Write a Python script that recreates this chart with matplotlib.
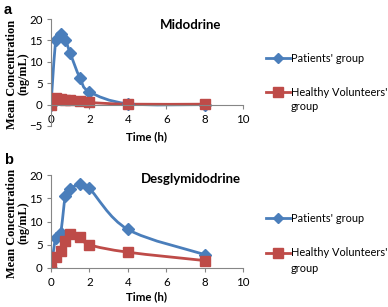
import matplotlib
matplotlib.use("Agg")
import matplotlib.pyplot as plt
import numpy as np
from matplotlib.path import Path
from matplotlib.patches import PathPatch
from matplotlib.lines import Line2D

# ---- data ----
time_h = [0, 0.25, 0.5, 0.75, 1, 1.5, 2, 4, 8]
mido_patients = [0, 15.0, 16.4, 15.0, 12.0, 6.3, 3.0, 0.2, 0.0]
mido_healthy = [0, 1.5, 1.3, 1.1, 1.0, 0.8, 0.5, 0.1, 0.1]
desg_patients = [0, 6.5, 7.5, 15.5, 17.0, 18.0, 17.1, 8.3, 2.9]
desg_healthy = [0, 2.4, 3.7, 5.8, 7.4, 6.7, 5.0, 3.4, 1.6]
titles = ["Midodrine", "Desglymidodrine"]
panel_letters = ["a", "b"]
legend_labels = ["Patients' group", "Healthy Volunteers'\ngroup"]
x_ticks = [0, 2, 4, 6, 8, 10]
y_ticks_top = [-5, 0, 5, 10, 15, 20]
y_ticks_bottom = [0, 5, 10, 15, 20]

BLUE = "#4A7EBB"
RED = "#BE4B48"
GRAY = "#868686"
SANS = ["Lato", "DejaVu Sans"]
SERIF = ["Liberation Serif", "DejaVu Serif"]
FS = 8.3
LFS = 7.9


def smooth_path(x, y):
    x = np.asarray(x, float)
    y = np.asarray(y, float)
    pts = np.column_stack([x, y])
    n = len(pts)
    verts = [pts[0]]
    codes = [Path.MOVETO]
    for i in range(n - 1):
        p0 = pts[i - 1] if i > 0 else pts[i]
        p1 = pts[i]
        p2 = pts[i + 1]
        p3 = pts[i + 2] if i + 2 < n else pts[i + 1]
        c1 = p1 + (p2 - p0) / 6.0
        c2 = p2 - (p3 - p1) / 6.0
        verts += [c1, c2, p2]
        codes += [Path.CURVE4] * 3
    return Path(verts, codes)


def draw_series(ax, x, y, color, marker, ms):
    patch = PathPatch(smooth_path(x, y), fill=False, edgecolor=color,
                      lw=2.0, transform=ax.transData, capstyle="round",
                      joinstyle="round")
    ax.add_patch(patch)
    ax.plot(x, y, linestyle="none", marker=marker, ms=ms, color=color,
            markeredgecolor=color)


fig = plt.figure(figsize=(3.88, 3.07), dpi=100)
W, H = 388.0, 307.0

panels = [
    dict(rect=[51 / W, 1 - 126 / H, 192 / W, 107 / H], ylim=(-5, 20),
         yt=y_ticks_top, p=mido_patients, h=mido_healthy,
         title_y=25, letter_y=10, ylab_y=74, leg_y=[58, 92], time_y=137),
    dict(rect=[51 / W, 1 - 268 / H, 192 / W, 93 / H], ylim=(0, 20),
         yt=y_ticks_bottom, p=desg_patients, h=desg_healthy,
         title_y=179, letter_y=160, ylab_y=223, leg_y=[218, 253], time_y=297),
]

for k, pn in enumerate(panels):
    ax = fig.add_axes(pn["rect"])
    ax.set_xlim(0, 10)
    ax.set_ylim(*pn["ylim"])
    ax.set_xticks(x_ticks)
    ax.set_yticks(pn["yt"])
    for s in ["top", "right"]:
        ax.spines[s].set_visible(False)
    ax.spines["left"].set_color(GRAY)
    ax.spines["bottom"].set_color(GRAY)
    ax.spines["bottom"].set_position(("data", 0))
    ax.tick_params(axis="both", colors=GRAY, length=3, width=0.8,
                   labelsize=FS, labelcolor="black")
    ax.tick_params(axis="x", pad=3.5)
    ax.tick_params(axis="y", pad=3)
    for lab in ax.get_xticklabels() + ax.get_yticklabels():
        lab.set_family(SANS)

    draw_series(ax, time_h, pn["p"], BLUE, "D", 6.0)
    draw_series(ax, time_h, pn["h"], RED, "s", 7.0)

    # title
    fig.text(191 / W, 1 - pn["title_y"] / H, titles[k], ha="center",
             va="center", fontsize=9.5, fontweight="bold", family=SANS)
    # panel letter
    fig.text(4 / W, 1 - pn["letter_y"] / H, panel_letters[k], ha="left",
             va="center", fontsize=10.5, fontweight="bold",
             family=["Liberation Sans", "DejaVu Sans"])
    # y label
    fig.text(18 / W, 1 - pn["ylab_y"] / H, "Mean Concentration\n(ng/mL)",
             rotation=90, ha="center", va="center", fontsize=8.8,
             fontweight="bold", family=SERIF, linespacing=1.0)
    # x label
    fig.text(147 / W, 1 - pn["time_y"] / H, "Time (h)", ha="center",
             va="center", fontsize=FS, fontweight="bold", family=SANS)

    # legend (manual)
    for j, (col, mk, ms) in enumerate([(BLUE, "D", 5.5), (RED, "s", 7.0)]):
        yy = 1 - pn["leg_y"][j] / H
        fig.add_artist(Line2D([266 / W, 290 / W], [yy, yy], color=col, lw=2.0,
                              transform=fig.transFigure))
        fig.add_artist(Line2D([278 / W], [yy], color=col, marker=mk, ms=ms,
                              transform=fig.transFigure))
        lines = legend_labels[j].split("\n")
        for m, txt in enumerate(lines):
            fig.text(291 / W, yy - m * 15 / H, txt, ha="left", va="center",
                     fontsize=LFS, family=SANS)

fig.savefig("out.png", dpi=100)
